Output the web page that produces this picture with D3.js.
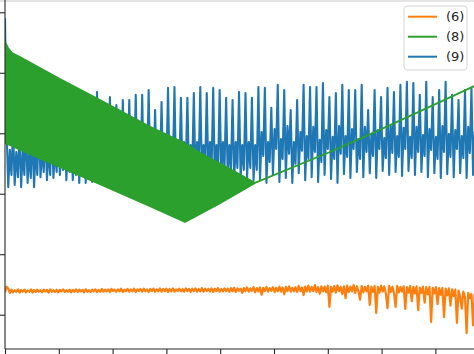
<!DOCTYPE html>
<html>
<head>
<meta charset="utf-8">
<script src="https://cdn.jsdelivr.net/npm/d3@7"></script>
<style>
  body { margin: 0; background: #fff; }
  svg { display: block; font-family: "DejaVu Sans", sans-serif; }
</style>
</head>
<body>
<script>
// series labels and colours
var labels = ["(6)", "(8)", "(9)"];
var colors = ["#ff7f0e", "#2ca02c", "#1f77b4"];

// tick values (labels are cut off in the picture)
var xTicks = [0, 50, 100, 150, 200, 250, 300, 350, 400];
var yTicks = [0, 20, 40, 60, 80, 100];

// (6) orange, sampled every 1.5 x units
var orangeStep = 1.5;
var orange = [
  7.4, 9.3, 8.6, 7.2, 8.3, 7.4, 8.1, 7.5, 8.4, 7.3,
  8.2, 7.6, 8.3, 7.4, 8.0, 7.6, 8.4, 7.3, 8.2, 7.5,
  8.3, 7.6, 8.1, 7.4, 8.3, 7.7, 8.2, 7.3, 8.4, 7.6,
  8.1, 7.5, 8.3, 7.4, 8.2, 7.7, 8.4, 7.5, 8.1, 7.6,
  8.3, 7.4, 8.2, 7.6, 8.4, 7.5, 8.3, 7.7, 8.2, 7.4,
  8.4, 7.6, 8.1, 7.5, 8.3, 7.7, 8.4, 7.5, 8.2, 7.6,
  8.5, 7.6, 8.3, 7.7, 8.4, 7.5, 8.5, 7.8, 8.3, 7.6,
  8.4, 7.7, 8.6, 7.5, 8.3, 7.8, 8.5, 7.6, 8.4, 7.7,
  8.6, 7.5, 8.4, 7.8, 8.5, 7.6, 8.6, 7.7, 8.4, 7.5,
  8.5, 7.8, 8.6, 7.6, 8.4, 7.7, 8.7, 7.6, 8.5, 7.8,
  8.6, 7.5, 8.5, 7.7, 8.7, 7.6, 8.4, 7.8, 8.6, 7.7,
  8.5, 7.6, 8.7, 7.8, 8.5, 7.5, 8.6, 7.8, 8.7, 7.6,
  8.5, 7.7, 8.8, 7.6, 8.6, 7.8, 8.5, 7.7, 8.7, 7.5,
  8.6, 7.8, 8.8, 7.6, 8.5, 7.7, 8.7, 7.8, 8.6, 7.6,
  8.8, 7.7, 8.9, 7.5, 8.7, 7.9, 8.6, 7.2, 8.8, 7.8,
  9.0, 7.6, 8.7, 7.9, 9.1, 7.4, 8.8, 7.7, 9.0, 6.6,
  8.9, 7.8, 9.2, 7.6, 8.8, 7.9, 9.1, 7.5, 8.9, 7.7,
  9.3, 7.6, 9.0, 6.8, 9.2, 7.8, 9.4, 7.6, 8.9, 7.7,
  9.1, 7.5, 9.5, 7.8, 9.0, 6.5, 9.3, 7.7, 9.6, 7.6,
  9.2, 7.8, 9.8, 7.5, 9.1, 6.9, 9.4, 7.7, 9.3, 7.4,
  9.6, 2.6, 9.2, 7.6, 9.5, 7.3, 9.7, 7.8, 9.2, 6.8,
  9.4, 5.5, 9.6, 7.5, 9.3, 7.7, 9.8, 7.2, 9.4, 7.6,
  5.0, 9.5, 7.4, 9.2, 7.7, 9.6, 3.2, 9.3, 7.5, 9.5,
  0.6, 9.2, 7.3, 9.6, 7.6, 9.4, 6.8, 2.2, 9.5, 7.5,
  9.3, 7.2, 2.6, 9.5, 7.4, 9.2, 7.6, 9.4, 1.9, 9.1,
  7.3, 9.5, 4.5, 9.2, 7.0, 9.4, 1.5, 9.0, 7.2, 9.3,
  4.0, 9.1, 6.8, 9.2, -2.4, 8.9, 7.0, 9.1, 3.5, 8.8,
  6.6, 8.9, -0.8, 8.6, 6.4, 8.7, 3.0, 8.4, 6.2, 8.3,
  -2.7, 8.0, 6.0, 2.0, 7.6, 5.8, -6.1, 7.2, 5.5, 6.9,
  -3.5, 6.5, 5.3];

// (8) green: fast oscillation, kept as its upper and lower envelope
var greenX    = [0, 2.8, 6.5, 13.9, 51.1, 88.3, 134.8, 167.3, 181.2, 199.8, 232.3, 302.0, 345.7, 395.0, 436.0];
var greenHigh = [90.2, 88.2, 86.5, 85.2, 77.9, 71.0, 62.1, 56.7, 53.5, 50.0, 43.6, 53.8, 60.7, 68.8, 75.6];
var greenLow  = [56.8, 56.4, 55.8, 54.6, 48.9, 43.2, 35.9, 30.7, 33.3, 36.9, 43.6, 53.8, 60.7, 68.8, 75.6];

// (9) blue, sampled every 1.5 x units
var blueStep = 1.5;
var blue = [98,
  61.1, 42.2, 54.5, 46.2, 61.7, 42.9, 53.8, 45.5, 60.4, 42.2, 54.5, 46.2, 62.7, 43.6, 53.8, 45.2,
  61.1, 42.2, 55.1, 46.2, 63.7, 45.5, 54.5, 47.2, 61.7, 44.5, 55.1, 46.2, 64.4, 45.2, 54.5, 47.2,
  62.7, 46.2, 55.1, 47.9, 65.0, 44.5, 55.1, 47.2, 63.7, 44.5, 56.1, 46.2, 66.0, 43.6, 55.1, 46.2,
  67.0, 43.6, 56.1, 47.2, 69.3, 43.9, 55.1, 46.2, 73.6, 44.5, 56.1, 47.2, 67.7, 44.5, 55.1, 46.2,
  72.0, 45.2, 56.1, 47.9, 69.3, 44.5, 55.1, 47.2, 71.0, 45.2, 56.1, 47.9, 71.0, 44.5, 55.1, 47.2,
  72.7, 45.2, 56.1, 47.9, 72.7, 44.5, 57.1, 47.2, 74.3, 45.2, 56.1, 47.9, 67.7, 44.5, 55.1, 47.2,
  70.3, 45.2, 56.1, 47.9, 75.0, 45.5, 57.1, 48.5, 75.3, 44.5, 56.1, 47.9, 71.7, 45.2, 57.1, 48.5,
  71.7, 45.5, 56.1, 47.9, 73.3, 44.5, 57.1, 48.5, 75.3, 45.2, 56.1, 47.9, 73.3, 45.5, 57.1, 48.5,
  75.0, 44.5, 56.1, 47.9, 74.3, 45.2, 57.1, 48.5, 71.7, 45.5, 56.1, 47.9, 71.0, 44.5, 57.1, 48.5,
  73.6, 45.2, 56.1, 47.9, 73.3, 45.5, 57.1, 48.5, 71.7, 44.5, 56.1, 47.9,
  75.3, 44.5, 60.4, 52.5, 75.0, 43.6, 57.1, 50.5, 68.4, 46.2, 61.4, 54.8, 76.0, 43.9, 58.1, 51.5,
  74.3, 45.2, 62.4, 53.2, 67.7, 43.6, 57.1, 49.9, 71.0, 46.8, 60.4, 54.2, 76.0, 44.5, 59.1, 51.5,
  75.3, 45.5, 62.1, 53.8, 75.3, 43.9, 57.8, 50.5, 76.6, 46.2, 61.1, 54.8, 72.0, 44.9, 58.8, 51.5,
  73.3, 43.6, 62.4, 53.2, 76.0, 46.5, 59.1, 52.2, 74.3, 45.2, 61.4, 54.8, 74.3, 47.2, 58.1, 51.5,
  76.0, 45.5, 62.1, 53.8, 67.7, 46.8, 59.8, 52.5, 74.3, 45.2, 61.1, 54.8, 72.0, 47.5, 58.4, 51.8,
  75.0, 46.2, 62.4, 53.5, 73.6, 47.2, 59.1, 52.2, 76.0, 45.9, 61.8, 54.8, 77.0, 47.5, 58.8, 51.8,
  76.6, 46.2, 62.1, 53.8, 72.7, 47.2, 59.4, 52.5, 77.0, 45.5, 61.4, 54.5, 72.0, 46.8, 58.8, 51.5,
  74.3, 45.2, 62.4, 53.8, 77.0, 46.5, 59.8, 52.2, 72.7, 45.5, 61.1, 54.8, 71.0, 46.8, 59.1, 51.8,
  74.3, 45.2, 62.1, 53.5, 75.0, 46.2, 60.4, 52.5];

var width = 474, height = 354;
var axisY = 349;

var x = d3.scaleLinear().domain([0, 400]).range([5, 435.4]);
var y = d3.scaleLinear().domain([0, 100]).range([314.7, 12.3]);

var svg = d3.select("body").append("svg")
  .attr("width", width)
  .attr("height", height);

svg.append("defs").append("clipPath").attr("id", "plot")
  .append("rect")
  .attr("x", x(0)).attr("y", 0)
  .attr("width", width - x(0)).attr("height", axisY);

// faint figure edge along the top
svg.append("rect").attr("x", 0).attr("y", 0).attr("width", width).attr("height", 2).attr("fill", "#e4e4e4");

var plot = svg.append("g").attr("clip-path", "url(#plot)");

var blueLine = d3.line()
  .x(function(d, i) { return x(i * blueStep); })
  .y(function(d) { return y(d); });

plot.append("path")
  .datum(blue)
  .attr("d", blueLine)
  .attr("fill", "none")
  .attr("stroke", colors[2])
  .attr("stroke-width", 2.1)
  .attr("stroke-linejoin", "round");

var greenArea = d3.area()
  .x(function(d, i) { return x(greenX[i]); })
  .y0(function(d, i) { return y(greenLow[i]); })
  .y1(function(d, i) { return y(greenHigh[i]); });

plot.append("path")
  .datum(greenX)
  .attr("d", greenArea)
  .attr("fill", colors[1])
  .attr("stroke", colors[1])
  .attr("stroke-width", 1.8)
  .attr("stroke-linejoin", "round");

var orangeLine = d3.line()
  .x(function(d, i) { return x(i * orangeStep); })
  .y(function(d) { return y(d); });

plot.append("path")
  .datum(orange)
  .attr("d", orangeLine)
  .attr("fill", "none")
  .attr("stroke", colors[0])
  .attr("stroke-width", 2.2)
  .attr("stroke-linejoin", "round");

// axes: ticks only, labels fall outside the crop
var yAxis = d3.axisLeft(y).tickValues(yTicks).tickFormat("").tickSize(5).tickSizeOuter(0);
var xAxis = d3.axisBottom(x).tickValues(xTicks).tickFormat("").tickSize(5).tickSizeOuter(0);

var gy = svg.append("g").attr("transform", "translate(" + x(0) + ",0)").call(yAxis);
var gx = svg.append("g").attr("transform", "translate(0," + axisY + ")").call(xAxis);
gy.select(".domain").remove();
gx.select(".domain").remove();
svg.selectAll(".tick line").attr("stroke", "#262626").attr("stroke-width", 1.1);

svg.append("line")
  .attr("x1", x(0)).attr("x2", x(0))
  .attr("y1", 0).attr("y2", axisY)
  .attr("stroke", "#262626").attr("stroke-width", 1.1);
svg.append("line")
  .attr("x1", x(0)).attr("x2", width)
  .attr("y1", axisY).attr("y2", axisY)
  .attr("stroke", "#262626").attr("stroke-width", 1.1);

// legend
var legend = svg.append("g").attr("transform", "translate(404,6)");
legend.append("rect")
  .attr("width", 63).attr("height", 64).attr("rx", 3)
  .attr("fill", "#fff").attr("fill-opacity", 0.8)
  .attr("stroke", "#d6d6d6");

var item = legend.selectAll("g.item").data(labels).enter().append("g")
  .attr("class", "item")
  .attr("transform", function(d, i) { return "translate(0," + (10.7 + i * 20) + ")"; });

item.append("line")
  .attr("x1", 4).attr("x2", 33)
  .attr("stroke", function(d, i) { return colors[i]; })
  .attr("stroke-width", 2);

item.append("text")
  .attr("x", 42).attr("y", 4.5)
  .attr("font-size", 13)
  .attr("fill", "#262626")
  .text(function(d) { return d; });
</script>
</body>
</html>
